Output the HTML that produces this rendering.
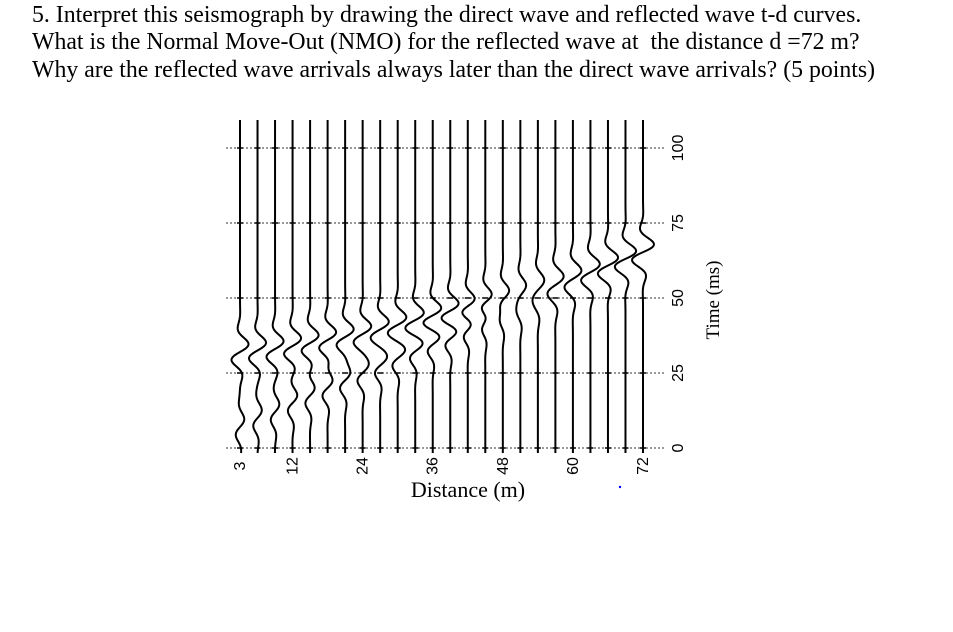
<!DOCTYPE html>
<html><head><meta charset="utf-8"><style>
body{margin:0;background:#fff;width:953px;height:632px;overflow:hidden;position:relative;font-family:"Liberation Serif",serif}
.q{position:absolute;left:32px;font-size:23.8px;color:#000;white-space:nowrap;line-height:27px}
</style></head><body>
<div class="q" style="top:2px">5. Interpret this seismograph by drawing the direct wave and reflected wave t-d curves.</div>
<div class="q" style="top:29px">What is the Normal Move-Out (NMO) for the reflected wave at&nbsp; the distance d =72 m?</div>
<div class="q" style="top:57px">Why are the reflected wave arrivals always later than the direct wave arrivals? (5 points)</div>
<svg id="chart" width="953" height="632" style="position:absolute;left:0;top:0">
<g id="grid"></g><g id="traces"></g><g id="labels"></g>
<text x="468" y="497" font-size="22" text-anchor="middle" font-family="Liberation Serif,serif">Distance (m)</text>
<text transform="translate(719,300) rotate(-90)" font-size="19" text-anchor="middle" font-family="Liberation Serif,serif">Time (ms)</text>
<circle cx="620" cy="487" r="1.2" fill="#00f"/>
</svg>
<script>
const offsets=[3,6,9,12,15,18,21,24,27,30,33,36,39,42,45,48,51,54,57,60,63,66,69,72];
const directTimes=[7,10,12,15,17.5,20,22.5,25,27.5,30,32.5,35,37,40,42.5,45,47.5,50,52.5,55,57.5,60,62.5,65];
const reflectTimes=[32,32.5,33,34,35,36,37,38,39.5,41,42.5,44,45.5,47,48.5,50,52,54,55.5,57.5,59.5,61.5,63.5,65.5];
const directAmp=[5,5,5,5.5,5.5,6,6,6,6,6,6,6,6,6,6,6,6,6,6,6,6,6,6,6];
const reflectAmp=[10,10,10,10,10,10,10,10,10,10,10,10,10,9,9,9,8,8,8,7,7,7,7,7];
const timeTicks=[0,25,50,75,100];
const distLabels=[3,12,24,36,48,60,72];
const NS='http://www.w3.org/2000/svg';
const xs=d=>240+(d-3)*(403/69);
const ys=t=>448-t*3;
function mk(tag,attrs,parent){const e=document.createElementNS(NS,tag);for(const k in attrs)e.setAttribute(k,attrs[k]);parent.appendChild(e);return e;}
const grid=document.getElementById('grid'),tr=document.getElementById('traces'),lb=document.getElementById('labels');
timeTicks.forEach(t=>{
 const l=mk('line',{x1:226,x2:665,y1:ys(t),y2:ys(t),stroke:'#333','stroke-width':1,'stroke-dasharray':'2,2'},grid);
 
 
 const tx=mk('text',{transform:`translate(${683},${ys(t)}) rotate(-90)`,'font-size':16,'text-anchor':'middle','font-family':'Liberation Sans,sans-serif'},lb);
 tx.textContent=t;
 
 
});
function wav(tau,A){return A*Math.sin(2*Math.PI*tau/12)*Math.exp(-(tau/7)*(tau/7));}
offsets.forEach((d,i)=>{
 const x0=xs(d);let p='';
 for(let y=120;y<=453;y+=1){const t=(448-y)/3;
  const dx=wav(t-directTimes[i],directAmp[i])+wav(t-reflectTimes[i],reflectAmp[i]);
  p+=(y===120?'M':'L')+(x0+dx).toFixed(2)+','+y;}
 const pa=mk('path',{d:p,fill:'none',stroke:'#000','stroke-width':2},tr);
 
 
 timeTicks.forEach(t=>{mk('line',{x1:x0-3,x2:x0+3,y1:ys(t),y2:ys(t),stroke:'#000','stroke-width':1.5},tr);});
});
distLabels.forEach(d=>{
 const tx=mk('text',{transform:`translate(${xs(d)+5},${466}) rotate(-90)`,'font-size':16,'text-anchor':'middle','font-family':'Liberation Sans,sans-serif'},lb);
 tx.textContent=d;
 
 
});
</script>
</body></html>
